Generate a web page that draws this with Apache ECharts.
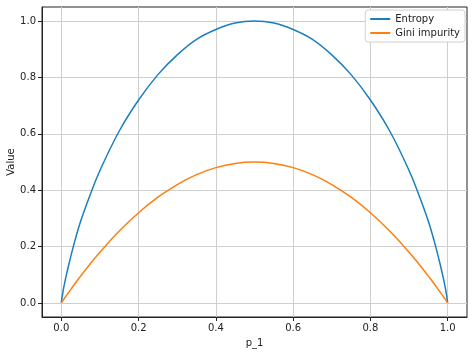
<!DOCTYPE html>
<html>
<head>
<meta charset="utf-8">
<script src="https://cdn.jsdelivr.net/npm/echarts@6/dist/echarts.min.js"></script>
<style>
  html, body { margin: 0; padding: 0; background: #fff; }
  #chart { width: 474px; height: 353px; }
</style>
</head>
<body>
<div id="chart"></div>
<script>
// values
const p1 = [0, 0.005, 0.01, 0.02, 0.035, 0.05, 0.075, 0.1, 0.15, 0.2, 0.25, 0.3, 0.35, 0.4, 0.45, 0.5,
  0.55, 0.6, 0.65, 0.7, 0.75, 0.8, 0.85, 0.9, 0.925, 0.95, 0.965, 0.98, 0.99, 0.995, 1];
const entropy = [0, 0.045, 0.08, 0.14, 0.22, 0.29, 0.385, 0.47, 0.61, 0.72, 0.81, 0.88, 0.935, 0.97, 0.993, 1.0,
  0.993, 0.97, 0.935, 0.88, 0.81, 0.72, 0.61, 0.47, 0.385, 0.29, 0.22, 0.14, 0.08, 0.045, 0];
const gini = [0, 0.01, 0.02, 0.039, 0.068, 0.095, 0.139, 0.18, 0.255, 0.32, 0.375, 0.42, 0.455, 0.48, 0.495, 0.5,
  0.495, 0.48, 0.455, 0.42, 0.375, 0.32, 0.255, 0.18, 0.139, 0.095, 0.068, 0.039, 0.02, 0.01, 0];
const xTicks = [0, 0.2, 0.4, 0.6, 0.8, 1.0];
const yTicks = [0, 0.2, 0.4, 0.6, 0.8, 1.0];

const chart = echarts.init(document.getElementById("chart"));
const font = "DejaVu Sans";

chart.setOption({
  animation: false,
  grid: {
    left: 42,
    top: 7,
    right: 7,
    bottom: 36,
    outerBoundsMode: "none",
    show: true,
    borderColor: "#222",
    borderWidth: 1,
  },
  legend: {
    orient: "vertical",
    right: 9,
    top: 10,
    backgroundColor: "#fff",
    borderColor: "#d0d0d0",
    borderWidth: 1,
    borderRadius: 3,
    padding: [4, 5, 4, 5],
    itemGap: 4,
    itemWidth: 20,
    itemHeight: 2,
    icon: "rect",
    textStyle: { fontFamily: font, fontSize: 10, color: "#222" },
    data: ["Entropy", "Gini impurity"],
  },
  xAxis: {
    type: "value",
    min: -0.05,
    max: 1.05,
    name: "p_1",
    nameLocation: "middle",
    nameGap: 21,
    nameMoveOverlap: false,
    nameTextStyle: { fontFamily: font, fontSize: 10, color: "#222" },
    axisLine: { show: true, onZero: false, lineStyle: { color: "#222" } },
    axisTick: { show: true, length: 4, customValues: xTicks, lineStyle: { color: "#222" } },
    axisLabel: {
      customValues: xTicks,
      fontFamily: font,
      fontSize: 10,
      color: "#222",
      margin: 6,
      formatter: (v) => v.toFixed(1),
    },
    splitLine: { show: true, lineStyle: { color: "#cfcfcf", width: 1 } },
  },
  yAxis: {
    type: "value",
    min: -0.05,
    max: 1.05,
    name: "Value",
    nameLocation: "middle",
    nameGap: 26,
    nameMoveOverlap: false,
    nameTextStyle: { fontFamily: font, fontSize: 10, color: "#222" },
    axisLine: { show: true, onZero: false, lineStyle: { color: "#222" } },
    axisTick: { show: true, length: 4, customValues: yTicks, lineStyle: { color: "#222" } },
    axisLabel: {
      customValues: yTicks,
      fontFamily: font,
      fontSize: 10,
      color: "#222",
      margin: 6,
      formatter: (v) => v.toFixed(1),
    },
    splitLine: { show: true, lineStyle: { color: "#cfcfcf", width: 1 } },
  },
  series: [
    {
      name: "Entropy",
      type: "line",
      data: p1.map((p, i) => [p, entropy[i]]),
      smooth: 0.4,
      showSymbol: false,
      color: "#1a7fbf",
      lineStyle: { width: 1.5 },
    },
    {
      name: "Gini impurity",
      type: "line",
      data: p1.map((p, i) => [p, gini[i]]),
      smooth: 0.4,
      showSymbol: false,
      color: "#ff7f0e",
      lineStyle: { width: 1.5 },
    },
  ],
});
</script>
</body>
</html>
